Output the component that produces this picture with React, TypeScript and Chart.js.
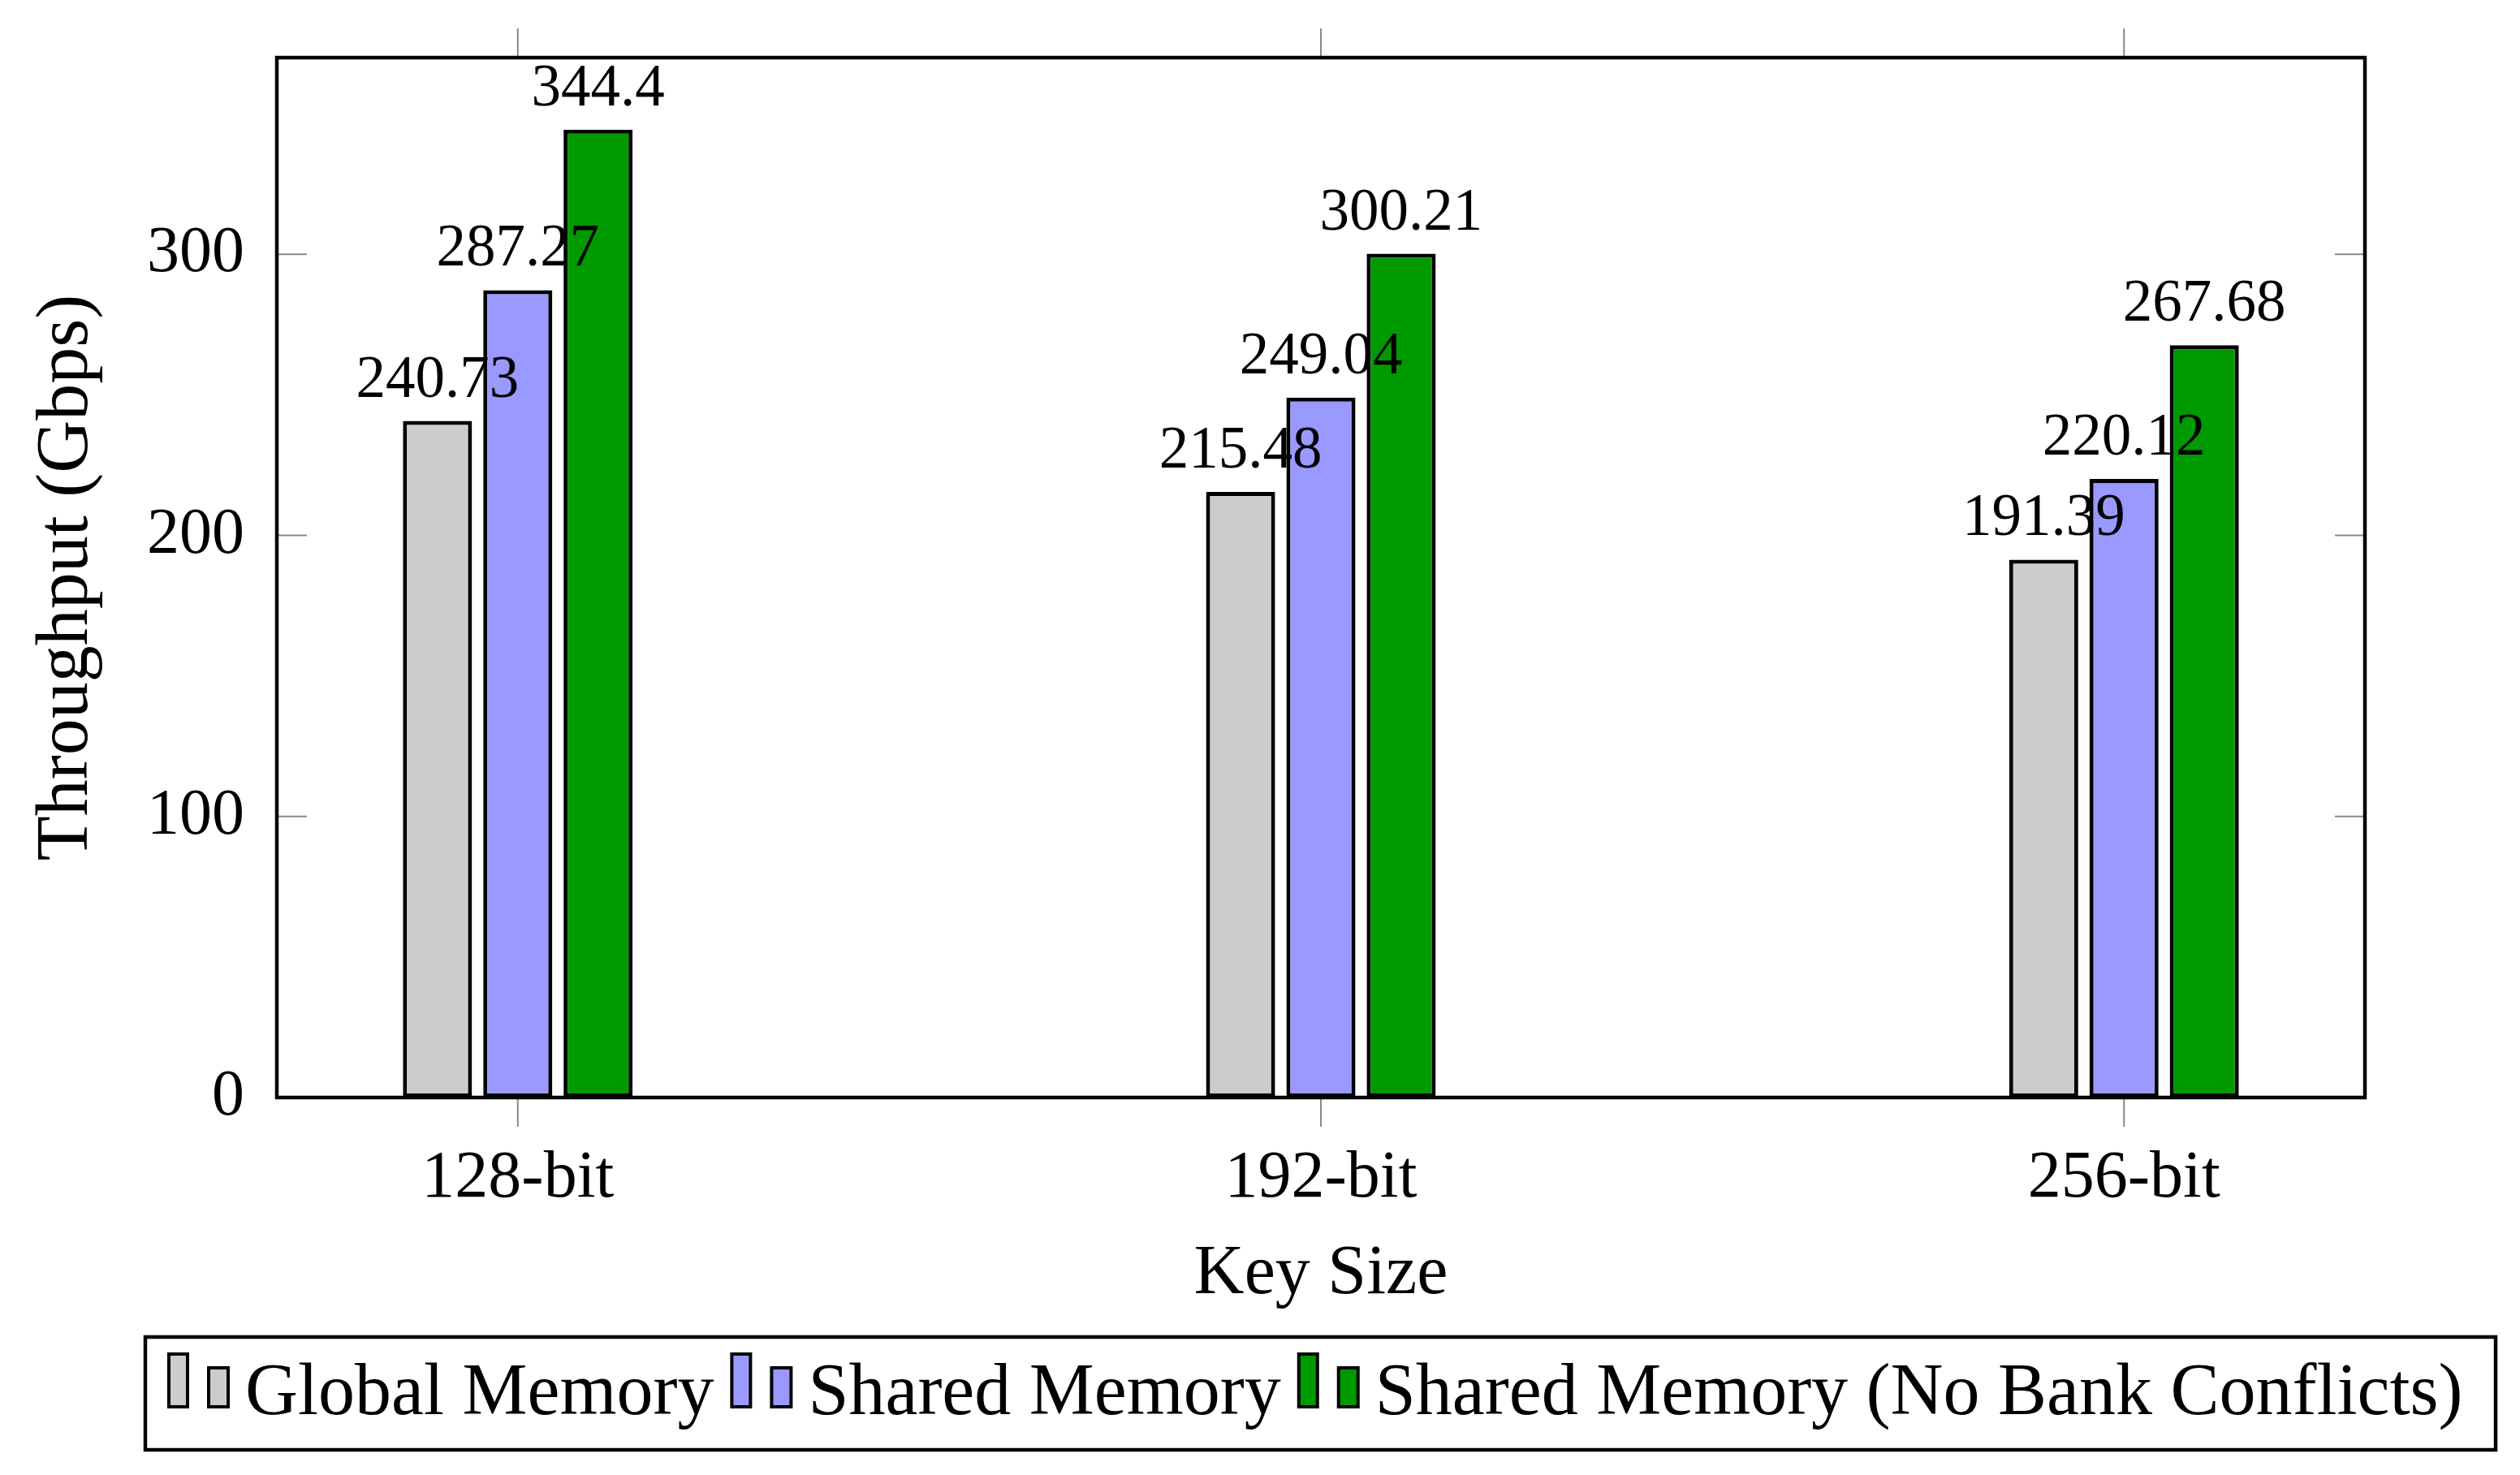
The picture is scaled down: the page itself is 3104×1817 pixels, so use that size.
import React, { useEffect, useRef } from "react";
import { Chart, registerables } from "chart.js";

Chart.register(...registerables);

const categories = ["128-bit", "192-bit", "256-bit"];
const globalMemory = [240.73, 215.48, 191.39];
const sharedMemory = [287.27, 249.04, 220.12];
const sharedNoConflicts = [344.4, 300.21, 267.68];
const seriesNames = ["Global Memory", "Shared Memory", "Shared Memory (No Bank Conflicts)"];
const seriesColors = ["#cccccc", "#9999ff", "#009900"];
const yTicks = [0, 100, 200, 300];
const yTitle = "Throughput (Gbps)";
const xTitle = "Key Size";

const FONT = '"Liberation Serif", "Times New Roman", serif';
const W = 3104;
const H = 1817;

const decorPlugin = {
  id: "decor",
  afterDatasetsDraw(chart: any) {
    const ctx = chart.ctx;
    const area = chart.chartArea;
    const xs = chart.scales.x;
    const ys = chart.scales.y;
    ctx.save();

    // data labels
    ctx.fillStyle = "#000";
    ctx.font = `73px ${FONT}`;
    ctx.textAlign = "center";
    ctx.textBaseline = "alphabetic";
    chart.data.datasets.forEach((ds: any, di: number) => {
      const meta = chart.getDatasetMeta(di);
      meta.data.forEach((bar: any, i: number) => {
        const v = ds.data[i].y;
        ctx.fillText(String(v), bar.x, bar.y - 30);
      });
    });

    // tick marks
    ctx.strokeStyle = "#888888";
    ctx.lineWidth = 2;
    yTicks.forEach((t) => {
      const py = ys.getPixelForValue(t);
      ctx.beginPath();
      ctx.moveTo(area.left, py);
      ctx.lineTo(area.left + 37, py);
      ctx.moveTo(area.right, py);
      ctx.lineTo(area.right - 37, py);
      ctx.stroke();
    });
    categories.forEach((_, i) => {
      const px = xs.getPixelForValue(i);
      ctx.beginPath();
      ctx.moveTo(px, area.bottom);
      ctx.lineTo(px, area.bottom + 36);
      ctx.moveTo(px, area.top);
      ctx.lineTo(px, area.top - 36);
      ctx.stroke();
    });

    // frame
    ctx.strokeStyle = "#000";
    ctx.lineWidth = 4.5;
    ctx.strokeRect(area.left, area.top, area.right - area.left, area.bottom - area.top);

    // axis titles
    ctx.fillStyle = "#000";
    ctx.textAlign = "center";
    ctx.textBaseline = "alphabetic";
    ctx.font = `86px ${FONT}`;
    ctx.fillText(xTitle, (area.left + area.right) / 2, 1593);
    ctx.save();
    ctx.translate(107, (area.top + area.bottom) / 2);
    ctx.rotate(-Math.PI / 2);
    ctx.font = `90px ${FONT}`;
    ctx.fillText(yTitle, 0, 0);
    ctx.restore();

    // legend
    const boxL = 179, boxT = 1647, boxR = 3074, boxB = 1786;
    ctx.lineWidth = 4.5;
    ctx.strokeStyle = "#000";
    ctx.strokeRect(boxL, boxT, boxR - boxL, boxB - boxT);
    ctx.font = `90px ${FONT}`;
    ctx.textAlign = "left";
    const widths = seriesNames.map((n) => ctx.measureText(n).width);
    const gap = 20;
    const iconSpace = 96;
    let x = 206;
    seriesNames.forEach((name, i) => {
      ctx.fillStyle = seriesColors[i];
      ctx.strokeStyle = "#000";
      ctx.lineWidth = 4;
      ctx.fillRect(x + 2, 1668, 23, 65);
      ctx.strokeRect(x + 2, 1668, 23, 65);
      ctx.fillRect(x + 51, 1685, 24, 48);
      ctx.strokeRect(x + 51, 1685, 24, 48);
      ctx.fillStyle = "#000";
      ctx.fillText(name, x + iconSpace, 1742);
      x += iconSpace + widths[i] + gap;
    });

    ctx.restore();
  },
};

export default function App() {
  const ref = useRef<HTMLCanvasElement | null>(null);

  useEffect(() => {
    document.body.style.margin = "0";
    const canvas = ref.current;
    if (!canvas) return;
    const seriesValues = [globalMemory, sharedMemory, sharedNoConflicts];
    const chart = new Chart(canvas, {
      type: "bar",
      data: {
        datasets: seriesValues.map((vals, di) => ({
          label: seriesNames[di],
          data: vals.map((y, i) => ({ x: i, y })),
          backgroundColor: seriesColors[di],
          borderColor: "#000000",
          borderWidth: 5,
          borderSkipped: false,
          categoryPercentage: 0.3,
          barPercentage: 0.86,
        })),
      },
      options: {
        animation: false,
        responsive: false,
        maintainAspectRatio: false,
        devicePixelRatio: 1,
        layout: { padding: { top: 71, right: W - 2913, left: 0, bottom: 0 } },
        plugins: {
          legend: { display: false },
          tooltip: { enabled: false },
          title: { display: false },
        },
        scales: {
          x: {
            type: "linear",
            offset: false,
            grace: 0,
            min: -0.3,
            max: 2.3,
            grid: { display: false, offset: false },
            border: { display: false },
            afterBuildTicks: (s: any) => {
              s.ticks = categories.map((_, i) => ({ value: i }));
            },
            afterFit: (s: any) => {
              s.height = H - 1352;
              s.paddingLeft = 0;
              s.paddingRight = 0;
            },
            ticks: {
              color: "#000",
              padding: 43,
              maxRotation: 0,
              autoSkip: false,
              font: { family: FONT, size: 82, lineHeight: 1.2 },
              callback: (v: any) => categories[Math.round(Number(v))] ?? "",
            },
          },
          y: {
            type: "linear",
            min: 0,
            max: 370,
            grid: { display: false },
            border: { display: false },
            afterBuildTicks: (s: any) => {
              s.ticks = yTicks.map((v) => ({ value: v }));
            },
            afterFit: (s: any) => {
              s.width = 341;
              s.paddingTop = 0;
              s.paddingBottom = 0;
            },
            ticks: {
              color: "#000",
              padding: 32,
              font: { family: FONT, size: 80, lineHeight: 1.2 },
              callback: (v: any) => String(v),
            },
          },
        },
      },
      plugins: [decorPlugin],
    } as any);
    return () => chart.destroy();
  }, []);

  return (
    <div style={{ width: W, height: H, background: "#fff" }}>
      <canvas ref={ref} width={W} height={H} style={{ width: W, height: H, display: "block" }} />
    </div>
  );
}
